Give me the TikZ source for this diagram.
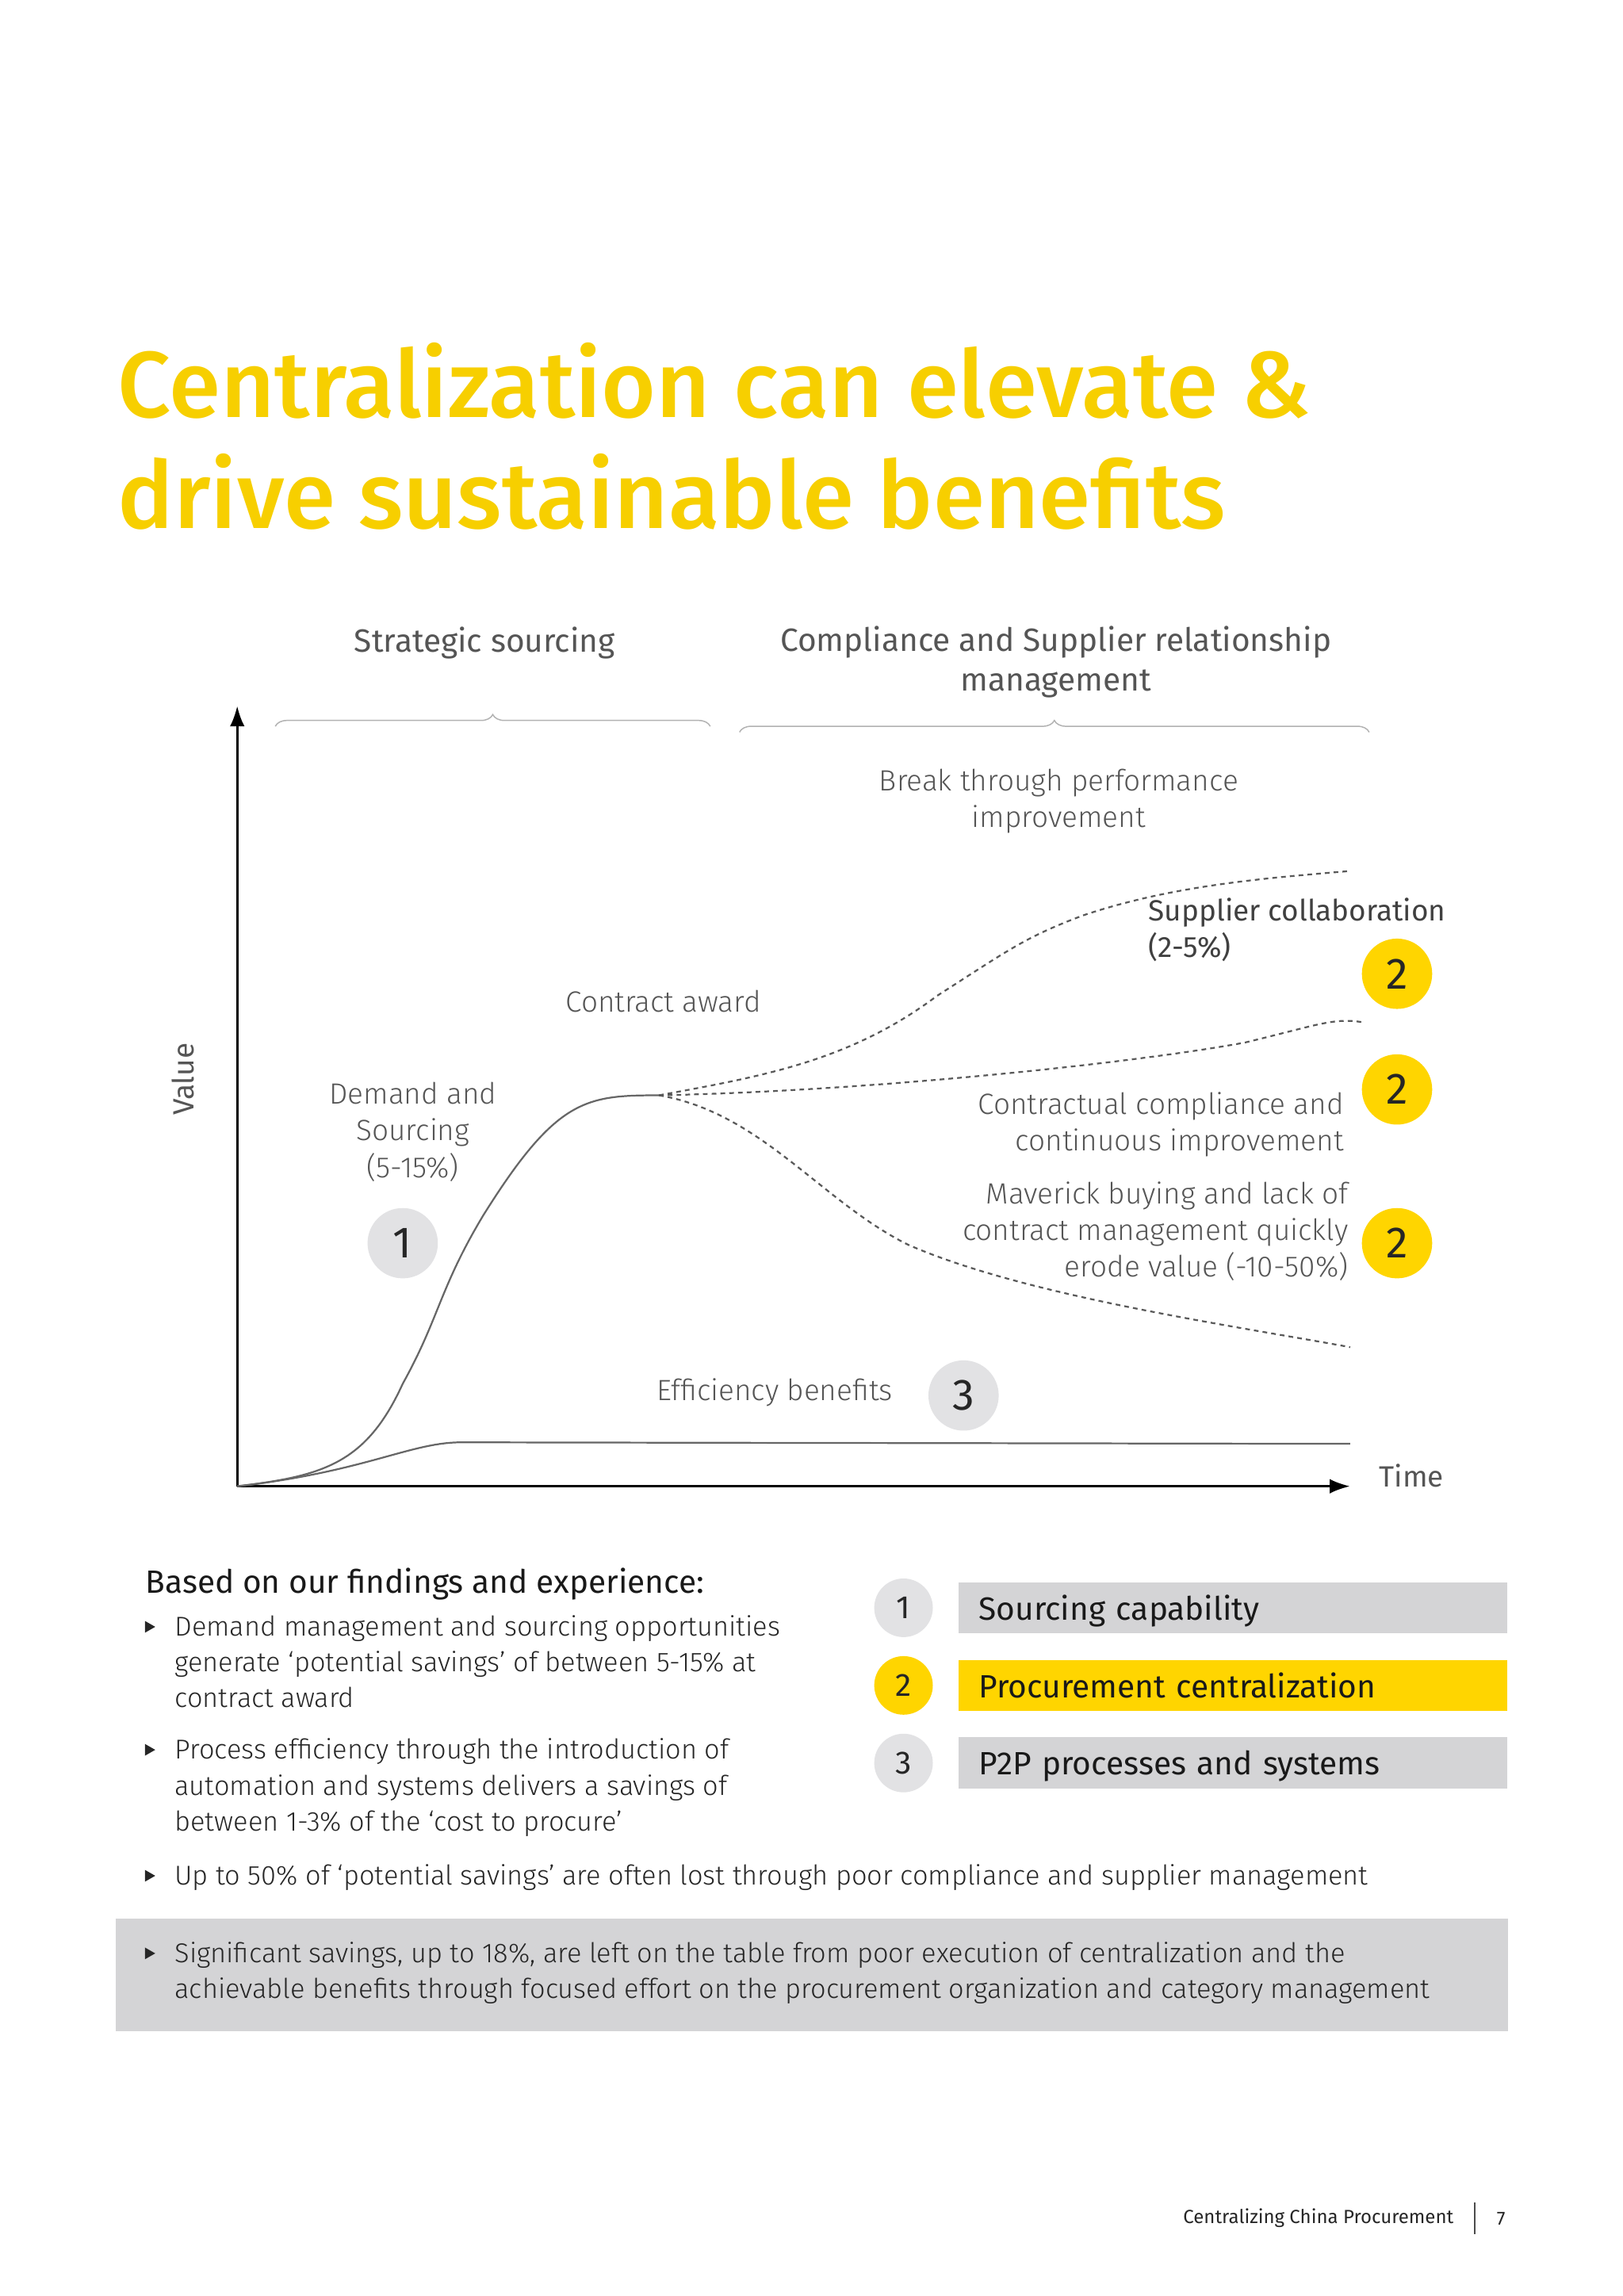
\documentclass[tikz,border=0pt]{standalone}
\usepackage{fontspec}
\setmainfont{Fira Sans}[UprightFont=* Light,BoldFont=* Medium]
\newfontfamily\regfont{Fira Sans}
\newfontfamily\medfont{Fira Sans Medium}
\usetikzlibrary{decorations.pathreplacing,arrows.meta}
\definecolor{eyy}{HTML}{FFD500}
\definecolor{eyt}{HTML}{F7CF00}
\definecolor{gbar}{HTML}{D4D4D6}
\definecolor{gcir}{HTML}{E2E2E4}
\definecolor{txt}{HTML}{555555}
\begin{document}
\begin{tikzpicture}[x=0.5pt,y=-0.5pt,
 lbl/.style={text=txt,font=\fontsize{10}{12.5}\selectfont,align=center,inner sep=0},
 hdr/.style={text=txt,font=\fontsize{11}{13.5}\selectfont\regfont,align=center,inner sep=0},
 num/.style={circle,minimum size=24pt,inner sep=0,font=\fontsize{15}{15}\selectfont\regfont,text=black!85},
 lnum/.style={circle,minimum size=20pt,inner sep=0,font=\fontsize{11}{11}\selectfont\regfont,text=black!85},
 bar/.style={minimum width=187.5pt,minimum height=17.5pt,text width=173.5pt,anchor=west,inner xsep=7pt,inner ysep=0,align=left,text depth=0pt,font=\fontsize{11}{13}\selectfont\regfont,text=black!90},
 btxt/.style={anchor=north west,align=left,inner sep=0,font=\fontsize{9.3}{12.2}\selectfont,text=black!85},
 brc/.style={decorate,decoration={brace,amplitude=4pt},draw=black!30,thin},
 dot/.style={dash pattern=on 1.6pt off 1.4pt,draw=black!65,line width=0.6pt},
 crv/.style={draw=black!60,line width=0.6pt}]
\useasboundingbox (0,0) rectangle (1108,1568);
\fill[white] (0,0) rectangle (1108,1568);
% title
\node[anchor=west,inner sep=0,text=eyt,font=\fontsize{32}{38}\selectfont\medfont] (t1) at (80,260) {Centralization can elevate \&};
\node[anchor=west,inner sep=0,text=eyt,font=\fontsize{32}{38}\selectfont\medfont] (t2) at (80,336) {drive sustainable benefits};
% headers
\node[hdr] (h1) at (331,439) {Strategic sourcing};
\node[hdr] (h2) at (721,452) {Compliance and Supplier relationship\\management};
\draw[brc] (188,496) -- (485,496);
\draw[brc] (505,500) -- (935,500);
% axes
\coordinate (o) at (162,1015);
\coordinate (ytop) at (162,482);
\coordinate (xend) at (922,1015);
\draw[line width=0.9pt,-{Latex[length=7pt,width=5pt]}] (o) -- (ytop);
\draw[line width=0.9pt,-{Latex[length=7pt,width=5pt]}] (o) -- (xend);
\node[hdr,font=\fontsize{10}{12}\selectfont\regfont] (time) at (964,1008) {Time};
\node[hdr,font=\fontsize{10}{12}\selectfont\regfont,rotate=90] (val) at (125,737) {Value};
% curves
\coordinate (ca) at (450,748);
\draw[crv] (o) .. controls (220,1008) and (250,1000) .. (275,945) .. controls (300,900) and (300,880) .. (330,830) .. controls (380,750) and (400,748) .. (ca);
\draw[crv] (o) .. controls (250,1005) and (280,985) .. (315,985) -- (922,986);
\draw[dot] (ca) .. controls (520,735) and (580,725) .. (640,680) .. controls (690,648) and (700,640) .. (740,625) .. controls (800,605) and (860,600) .. (920,595);
\draw[dot] (ca) .. controls (600,745) and (780,725) .. (850,712) .. controls (900,700) and (910,695) .. (930,698);
\draw[dot] (ca) .. controls (520,760) and (560,820) .. (620,850) .. controls (700,885) and (840,905) .. (922,920);
% labels
\node[lbl] (bt) at (723,547) {Break through performance\\improvement};
\node[lbl,align=left,anchor=west,text=black!75,font=\fontsize{10}{12.5}\selectfont\regfont] (sc) at (784,635) {Supplier collaboration\\(2-5\%)};
\node[lbl] (caw) at (453,684) {Contract award};
\node[lbl] (ds) at (282,773) {Demand and\\Sourcing\\(5-15\%)};
\node[lbl,align=right,anchor=east] (cc) at (918,768) {Contractual compliance and\\continuous improvement};
\node[lbl,align=right,anchor=east] (mb) at (921,841) {Maverick buying and lack of\\contract management quickly\\erode value (-10-50\%)};
\node[lbl] (eb) at (529,951) {Efficiency benefits};
\node[num,fill=gcir] (c1) at (275,849) {1};
\node[num,fill=eyy] (c2a) at (954,665) {2};
\node[num,fill=eyy] (c2b) at (954,744) {2};
\node[num,fill=eyy] (c2c) at (954,849) {2};
\node[num,fill=gcir] (c3) at (658,953) {3};
% findings
\node[anchor=west,inner sep=0,font=\fontsize{11}{13}\selectfont\regfont,text=black!90] (bf) at (99,1082) {Based on our findings and experience:};
\newcommand\tribul[2]{\fill[black!85] (#1-3,#2-4) -- (#1+4,#2) -- (#1-3,#2+4) -- cycle;}
\tribul{102}{1111}
\node[btxt] (b1) at (119,1103) {Demand management and sourcing opportunities\\generate ‘potential savings’ of between 5-15\% at\\contract award};
\tribul{102}{1195}
\node[btxt] (b2) at (119,1187) {Process efficiency through the introduction of\\automation and systems delivers a savings of\\between 1-3\% of the ‘cost to procure’};
\tribul{102}{1281}
\node[btxt] (b3) at (119,1273) {Up to 50\% of ‘potential savings’ are often lost through poor compliance and supplier management};
\fill[gbar] (79,1310) rectangle (1030,1387);
\tribul{102}{1334}
\node[btxt] (b4) at (119,1326) {Significant savings, up to 18\%, are left on the table from poor execution of centralization and the\\achievable benefits through focused effort on the procurement organization and category management};
% legend
\node[lnum,fill=gcir] (l1) at (617,1098) {1};
\node[lnum,fill=eyy] (l2) at (617,1151) {2};
\node[lnum,fill=gcir] (l3) at (617,1204) {3};
\node[bar,fill=gbar] (r1) at (654,1098) {Sourcing capability};
\node[bar,fill=eyy] (r2) at (654,1151) {Procurement centralization};
\node[bar,fill=gbar] (r3) at (654,1204) {P2P processes and systems};
% footer
\node[anchor=east,inner sep=0,font=\fontsize{6.5}{8}\selectfont\regfont,text=black!85] (ft) at (993,1515) {Centralizing China Procurement};
\draw[black!70,line width=0.5pt] (1007,1504) -- (1007,1526);
\node[inner sep=0,font=\fontsize{6.5}{8}\selectfont\regfont,text=black!85] (pg) at (1025,1515) {7};
\end{tikzpicture}
\end{document}
